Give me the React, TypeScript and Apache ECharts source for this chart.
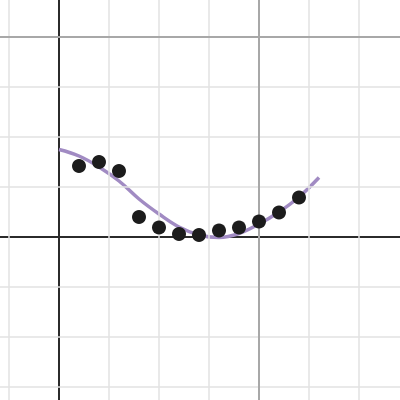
import { useEffect, useRef } from "react";
import * as echarts from "echarts";

// scatter observations
const pointX = [0.2, 0.4, 0.6, 0.8, 1.0, 1.2, 1.4, 1.6, 1.8, 2.0, 2.2, 2.4];
const pointY = [0.71, 0.75, 0.66, 0.2, 0.095, 0.03, 0.02, 0.065, 0.095, 0.155, 0.245, 0.395];

// fitted curve
const curveX = [0, 0.2, 0.4, 0.6, 0.8, 1.0, 1.2, 1.4, 1.6, 1.8, 2.0, 2.2, 2.4, 2.6];
const curveY = [0.875, 0.81, 0.7, 0.56, 0.38, 0.23, 0.1, 0.02, -0.005, 0.035, 0.13, 0.25, 0.4, 0.595];

// grid lines
const minorX = [-1, -0.5, 0.5, 1, 1.5, 2.5, 3];
const majorX = [2];
const minorY = [-1.5, -1, -0.5, 0.5, 1, 1.5];
const majorY = [2];

const X_MIN = -0.59;
const X_MAX = 3.41;
const Y_MIN = -1.63;
const Y_MAX = 2.37;

export default function App() {
  const hostRef = useRef<HTMLDivElement>(null);

  useEffect(() => {
    const el = hostRef.current;
    if (!el) return;
    const chart = echarts.init(el, undefined, { renderer: "svg" });

    const gridLine = (color: string, width: number) => ({
      silent: true,
      symbol: "none",
      label: { show: false },
      lineStyle: { color, width, type: "solid" as const },
      animation: false,
    });

    chart.setOption({
      animation: false,
      backgroundColor: "#ffffff",
      grid: { left: 0, right: 0, top: 0, bottom: 0 },
      xAxis: {
        type: "value",
        min: X_MIN,
        max: X_MAX,
        axisLine: { show: true, onZero: true, lineStyle: { color: "#2b2b2b", width: 2 } },
        axisTick: { show: false },
        axisLabel: { show: false },
        splitLine: { show: false },
      },
      yAxis: {
        type: "value",
        min: Y_MIN,
        max: Y_MAX,
        axisLine: { show: true, onZero: true, lineStyle: { color: "#2b2b2b", width: 2 } },
        axisTick: { show: false },
        axisLabel: { show: false },
        splitLine: { show: false },
      },
      series: [
        {
          type: "line",
          data: [],
          z: 1,
          markLine: {
            ...gridLine("#e2e2e2", 1.5),
            data: [...minorX.map((v) => ({ xAxis: v })), ...minorY.map((v) => ({ yAxis: v }))],
          },
        },
        {
          type: "line",
          data: [],
          z: 2,
          markLine: {
            ...gridLine("#a8a8a8", 2),
            data: [...majorX.map((v) => ({ xAxis: v })), ...majorY.map((v) => ({ yAxis: v }))],
          },
        },
        {
          type: "line",
          data: curveX.map((x, i) => [x, curveY[i]]),
          smooth: 0.4,
          showSymbol: false,
          z: 4,
          lineStyle: { color: "#a18bc3", width: 3.5, type: "solid", opacity: 1 },
        },
        {
          type: "scatter",
          data: pointX.map((x, i) => [x, pointY[i]]),
          symbolSize: 14,
          z: 5,
          itemStyle: { color: "#1c1c1c", opacity: 1 },
        },
      ],
    });

    return () => chart.dispose();
  }, []);

  return (
    <div
      ref={hostRef}
      style={{ position: "fixed", left: 0, top: 0, width: 400, height: 400 }}
    />
  );
}
